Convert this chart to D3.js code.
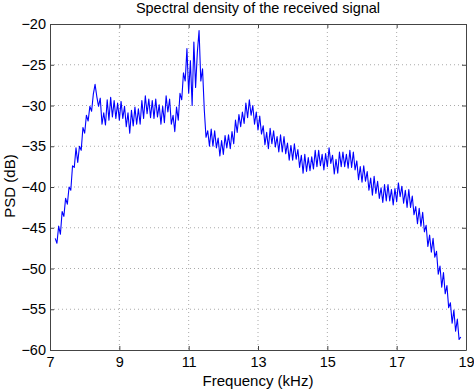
<!DOCTYPE html>
<html><head><meta charset="utf-8">
<script src="https://cdn.jsdelivr.net/npm/d3@7"></script>
<style>body{margin:0;background:#fff}svg{display:block}text{font-family:"Liberation Sans",Arial,sans-serif}</style>
</head><body>
<svg id="c" width="474" height="389"></svg>
<script>
const title = "Spectral density of the received signal";
const xLabel = "Frequency (kHz)";
const yLabel = "PSD (dB)";
const xTicks = [7, 9, 11, 13, 15, 17, 19];
const yTicks = [-60, -55, -50, -45, -40, -35, -30, -25, -20];
const freqStart = 7.15, freqStep = 0.05;
const psd = [
-46.3,-46.9,-44.8,-45.8,-43.0,-43.6,-41.4,-42.1,-40.0,-40.4,-37.4,-37.6,-35.2,-37.0,-35.0,-35.5,-32.7,-33.4,-31.2,-31.9,
-30.1,-30.7,-28.6,-27.4,-28.9,-30.1,-29.1,-32.3,-30.9,-32.4,-29.3,-31.8,-29.0,-31.4,-29.4,-31.6,-29.7,-31.8,-29.5,-31.6,
-30.1,-32.6,-30.9,-33.4,-30.6,-32.5,-30.2,-32.3,-30.4,-32.3,-29.4,-31.6,-28.8,-31.0,-29.2,-31.5,-29.4,-31.6,-29.2,-31.4,
-29.9,-32.3,-30.1,-32.1,-28.8,-30.8,-29.2,-32.3,-31.2,-33.2,-30.2,-31.8,-28.5,-29.3,-26.0,-27.0,-23.0,-28.5,-24.5,-30.0,
-22.2,-27.8,-23.5,-20.8,-27.0,-25.5,-30.5,-33.9,-33.1,-35.0,-32.9,-35.0,-33.1,-35.2,-34.0,-36.2,-34.3,-36.0,-33.7,-35.2,
-33.6,-35.3,-33.2,-34.7,-31.8,-33.3,-31.1,-32.6,-30.8,-32.2,-29.7,-31.5,-29.3,-31.2,-30.0,-32.3,-30.8,-33.0,-31.3,-33.5,
-32.5,-34.8,-33.3,-35.3,-32.8,-34.7,-33.1,-35.1,-33.8,-35.7,-33.6,-35.7,-33.8,-35.9,-34.6,-36.7,-34.9,-36.7,-34.7,-36.6,
-35.4,-37.6,-36.1,-38.3,-36.0,-38.1,-36.4,-38.0,-36.3,-37.8,-35.5,-37.5,-35.5,-37.4,-36.0,-37.9,-35.9,-37.5,-35.2,-37.1,
-36.1,-38.4,-36.6,-38.3,-35.7,-37.5,-35.7,-37.5,-36.0,-37.7,-35.5,-37.6,-35.7,-37.9,-36.8,-39.1,-37.5,-39.4,-37.4,-39.3,
-38.1,-40.4,-38.9,-41.0,-38.7,-40.8,-39.3,-41.4,-40.1,-41.9,-39.7,-41.7,-39.7,-41.7,-40.3,-42.2,-40.2,-41.8,-39.5,-41.2,
-39.9,-42.0,-40.4,-42.5,-40.3,-42.5,-41.1,-43.4,-42.4,-44.5,-42.6,-44.8,-43.1,-45.5,-44.7,-47.3,-45.9,-48.0,-46.3,-48.6,
-47.9,-50.7,-49.7,-52.3,-50.5,-53.1,-52.1,-54.8,-54.2,-56.7,-55.1,-57.7,-56.2,-58.7,-58.4
];
const data = psd.map((v, i) => ({f: freqStart + i * freqStep, v}));

const svg = d3.select("#c");
const m = {l: 50, r: 466, t: 24, b: 350};
const x = d3.scaleLinear().domain([7, 19]).range([m.l, m.r]);
const y = d3.scaleLinear().domain([-60, -20]).range([m.b, m.t]);
const axisCol = "#444";
const cx = (m.l + m.r) / 2;

// grid
const g = svg.append("g");
g.selectAll(".gx").data(xTicks.slice(1, -1)).join("line")
  .attr("x1", d => x(d)).attr("x2", d => x(d)).attr("y1", m.t).attr("y2", m.b)
  .attr("stroke", "#aaa").attr("stroke-width", 1).attr("stroke-dasharray", "1,3");
g.selectAll(".gy").data(yTicks.slice(1, -1)).join("line")
  .attr("y1", d => y(d)).attr("y2", d => y(d)).attr("x1", m.l).attr("x2", m.r)
  .attr("stroke", "#aaa").attr("stroke-width", 1).attr("stroke-dasharray", "1,3");

// line
svg.append("path").datum(data)
  .attr("d", d3.line().x(d => x(d.f)).y(d => y(d.v)))
  .attr("fill", "none").attr("stroke", "#0000ff").attr("stroke-width", 1.1)
  .attr("stroke-linejoin", "round");

// axes
const fmt = d => d < 0 ? "\u2212" + Math.abs(d) : String(d);
const ax = svg.append("g").attr("transform", `translate(0,${m.b})`)
  .call(d3.axisBottom(x).tickValues(xTicks).tickFormat(fmt).tickSizeInner(-4).tickSizeOuter(0).tickPadding(7));
const ay = svg.append("g").attr("transform", `translate(${m.l},0)`)
  .call(d3.axisLeft(y).tickValues(yTicks).tickFormat(fmt).tickSizeInner(-4).tickSizeOuter(0).tickPadding(4));
const at = svg.append("g").attr("transform", `translate(0,${m.t})`)
  .call(d3.axisTop(x).tickValues(xTicks).tickFormat("").tickSizeInner(-4).tickSizeOuter(0));
const ar = svg.append("g").attr("transform", `translate(${m.r},0)`)
  .call(d3.axisRight(y).tickValues(yTicks).tickFormat("").tickSizeInner(-4).tickSizeOuter(0));
[ax, ay, at, ar].forEach(a => {
  a.select(".domain").attr("stroke", axisCol);
  a.selectAll(".tick line").attr("stroke", axisCol);
  a.selectAll("text").attr("fill", "#000").style("font-size", "14.5px").style("font-family", '"Liberation Sans", Arial, sans-serif');
});
ax.selectAll("text").attr("dy", "0.71em");

svg.append("text").attr("x", cx).attr("y", 12.5).attr("text-anchor", "middle")
  .style("font-size", "14.5px").text(title);
svg.append("text").attr("x", cx).attr("y", 386).attr("text-anchor", "middle")
  .style("font-size", "15px").text(xLabel);
svg.append("text").attr("transform", `translate(14.5,${(m.t + m.b) / 2 - 1}) rotate(-90)`).attr("text-anchor", "middle")
  .style("font-size", "15px").text(yLabel);
</script>
</body></html>
